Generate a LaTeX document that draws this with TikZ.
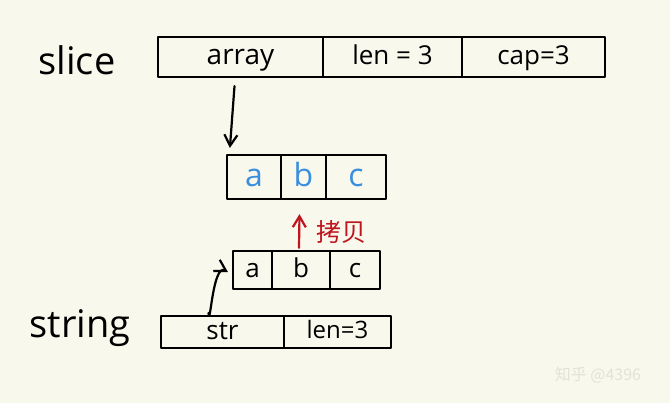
\documentclass[tikz,border=0pt]{standalone}
\usepackage{fontspec}
\setmainfont{Open Sans}
\newfontfamily\cjkfont{Noto Sans CJK SC}
\usetikzlibrary{arrows.meta,calc}
\definecolor{paper}{HTML}{F8F8EC}
\definecolor{inkblue}{HTML}{3A8EE0}
\definecolor{inkred}{HTML}{C0141E}
\definecolor{wmark}{HTML}{E2E2D6}
\tikzset{
  ink/.style={line width=2.2pt, line cap=round, line join=round, black},
  cell/.style={ink, draw, rectangle, inner sep=0pt, anchor=center},
  sz/.style n args={3}{font=\fontsize{#1}{#1}\selectfont, text height=#2, text depth=#3},
  bigtxt/.style={font=\fontsize{38}{40}\selectfont},
  arrowtip/.style={-{Straight Barb[length=11pt,width=13pt]}}
}
\begin{document}
\begin{tikzpicture}[x=1pt,y=-1pt]
\fill[paper] (0,0) rectangle (670,403);
\useasboundingbox (0,0) rectangle (670,403);

% labels
\node[bigtxt] (lslice) at (77,60) {slice};
\node[bigtxt] (lstring) at (80,328) {string};

% slice header
\node[cell, minimum width=165pt, minimum height=40pt, sz={28}{20pt}{4pt}] (arr) at (240.5,57) {array};
\node[cell, minimum width=139pt, minimum height=40pt, sz={26}{19pt}{4pt}] (slen) at (392.5,57) {len = 3};
\node[cell, minimum width=143pt, minimum height=40pt, sz={26}{19pt}{4pt}] (scap) at (533.5,57) {cap=3};

% upper array (copied)
\node[cell, minimum width=54pt, minimum height=44pt, text=inkblue, sz={32}{23pt}{3pt}] (ua) at (254,177) {a};
\node[cell, minimum width=45pt, minimum height=44pt, text=inkblue, sz={32}{23pt}{3pt}] (ub) at (303.5,177) {b};
\node[cell, minimum width=60pt, minimum height=44pt, text=inkblue, sz={32}{23pt}{3pt}] (uc) at (356,177) {c};

% lower array (string bytes)
\node[cell, minimum width=39pt, minimum height=38pt, sz={26}{19pt}{3pt}] (la) at (252.5,270) {a};
\node[cell, minimum width=58pt, minimum height=38pt, sz={26}{19pt}{3pt}] (lb) at (301,270) {b};
\node[cell, minimum width=50pt, minimum height=38pt, sz={26}{19pt}{3pt}] (lc) at (355,270) {c};

% string header
\node[cell, minimum width=123pt, minimum height=32pt, sz={26}{19pt}{3pt}] (sstr) at (222.5,332) {str};
\node[cell, minimum width=107pt, minimum height=32pt, sz={24}{17pt}{3pt}] (slen2) at (337.5,332) {len=3};

% pointer from slice.array to upper array
\draw[ink, arrowtip] ($(arr.south)+(-6,8)$) -- ($(ua.north west)+(4,-6)$);

% copy arrow
\draw[ink, inkred, arrowtip] ($(lb.north)+(-2,-2)$) -- ($(ub.south)+(-4,14)$);
\node[text=inkred, font=\cjkfont\fontsize{25}{26}\selectfont, anchor=west] (copy) at (313,232) {拷贝};

% pointer from string.str to lower array
\draw[ink, arrowtip] ($(sstr.north)+(-14,-2)$) to[out=-85, in=150] ($(la.west)+(-4,2)$);

% watermark
\node[text=wmark, font=\cjkfont\fontsize{16}{18}\selectfont] (wm) at (598,375) {知乎 @4396};
\end{tikzpicture}
\end{document}
